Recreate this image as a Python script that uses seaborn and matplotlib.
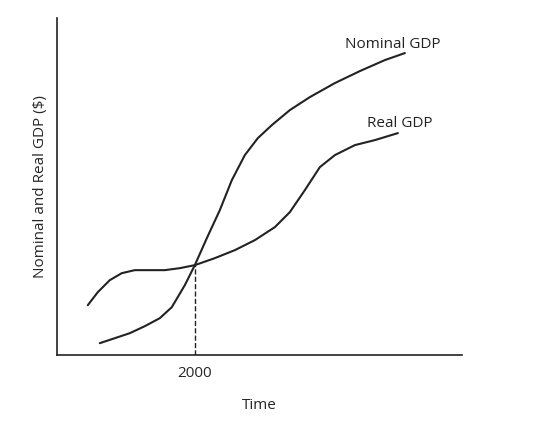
import matplotlib
matplotlib.use("Agg")
import matplotlib.pyplot as plt
import seaborn as sns
import pandas as pd

# values (arbitrary units, time axis in pixel-like units)
nominal_x = [100, 115, 130, 145, 160, 172, 185, 195, 207, 220, 232, 245, 258, 272, 290, 310, 335, 360, 385, 405]
nominal_y = [12, 17, 22, 29, 37, 48, 70, 90, 117, 145, 175, 200, 217, 230, 245, 258, 272, 284, 295, 302]
real_x = [88, 98, 110, 122, 135, 150, 165, 180, 195, 215, 235, 255, 275, 290, 305, 320, 335, 355, 375, 398]
real_y = [50, 63, 75, 82, 85, 85, 85, 87, 90, 97, 105, 115, 128, 143, 165, 188, 200, 210, 215, 222]
year_x = 195
year_label = "2000"

sns.set_theme(style="white")
plt.rcParams['font.family'] = ['Open Sans', 'DejaVu Sans']

fig = plt.figure(figsize=(5.46, 4.30), dpi=100)
ax = fig.add_axes([0.104, 0.174, 0.742, 0.784])

nom = pd.DataFrame({"x": nominal_x, "y": nominal_y})
real = pd.DataFrame({"x": real_x, "y": real_y})
sns.lineplot(data=nom, x="x", y="y", ax=ax, color="#222222", lw=1.5)
sns.lineplot(data=real, x="x", y="y", ax=ax, color="#222222", lw=1.5)

ax.plot([year_x, year_x], [0, 90], ls="--", color="#222222", lw=1)

ax.set_xlim(57, 462)
ax.set_ylim(0, 337)
ax.set_xticks([year_x])
ax.set_xticklabels([year_label], fontsize=11)
ax.set_yticks([])
ax.tick_params(axis="x", length=0, pad=8)
for s in ["top", "right"]:
    ax.spines[s].set_visible(False)
for s in ["left", "bottom"]:
    ax.spines[s].set_color("#222222")
    ax.spines[s].set_linewidth(1.2)

ax.set_xlabel("Time", fontsize=11, labelpad=12)
ax.set_ylabel("Nominal and Real GDP ($)", fontsize=11, labelpad=6)

ax.text(393, 307, "Nominal GDP", fontsize=11, ha="center", color="#222222")
ax.text(400, 228, "Real GDP", fontsize=11, ha="center", color="#222222")

fig.savefig("out.png", dpi=100, facecolor="white")
